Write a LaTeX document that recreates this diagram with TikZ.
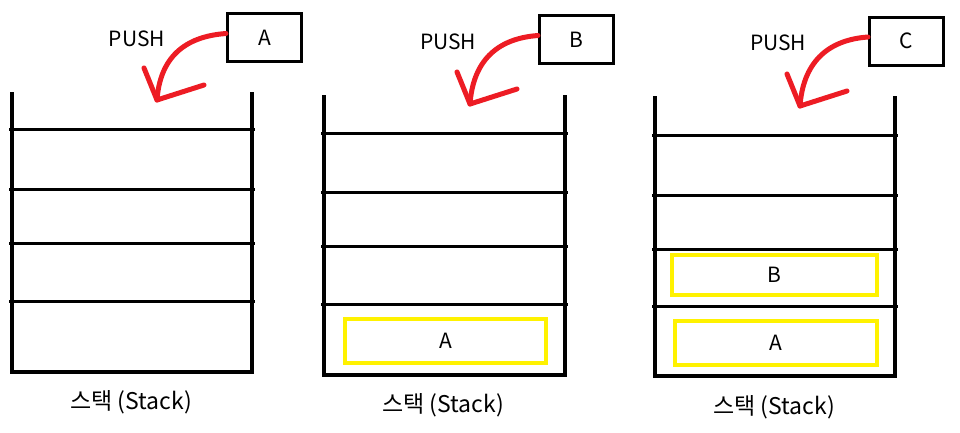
\documentclass[tikz,border=0pt]{standalone}
\usepackage{fontspec}
\setmainfont{Noto Sans CJK KR}
\usetikzlibrary{positioning, calc}

\definecolor{paintred}{RGB}{237,28,36}
\definecolor{paintyellow}{RGB}{255,242,0}

\tikzset{
    frame/.style={line width=3.5pt, line join=miter},
    shelf/.style={line width=3pt},
    item/.style={draw, line width=3pt, minimum width=74pt, minimum height=48pt, font=\fontsize{21}{25}\selectfont},
    slot/.style={draw=paintyellow, line width=4pt, font=\fontsize{21}{25}\selectfont},
    pushlabel/.style={font=\fontsize{21}{25}\selectfont},
    stacklabel/.style={font=\fontsize{23}{27}\selectfont},
    pusharrow/.style={draw=paintred, line width=5pt, line cap=round, line join=round},
}

\begin{document}
\begin{tikzpicture}[x=1pt, y=-1pt]
    \useasboundingbox (0,0) rectangle (960,432);

    % stack frames: x0/x1/top/bottom and shelves
    \foreach \xl/\xr/\yt/\yb/\sa/\sb/\sc/\sd in {
        12/252/92/372/129/189/243/301,
        324/565/95/375/133/192/246/304,
        655/895/96/376/135/195/249/306}{
        \draw[frame] (\xl,\yt) -- (\xl,\yb) -- (\xr,\yb) -- (\xr,\yt);
        \foreach \s in {\sa,\sb,\sc,\sd}
            \draw[shelf] (\xl-3,\s) -- (\xr+3,\s);
    }

    % incoming items
    \node[item] (a) at (264.5,37.5) {A};
    \node[item] (b) at (576.5,39.5) {B};
    \node[item] (c) at (906.5,41) {C};

    \node[pushlabel] (pa) at (137,39) {PUSH};
    \node[pushlabel] (pb) at (448,42) {PUSH};
    \node[pushlabel] (pc) at (778,43) {PUSH};

    % items already in the stacks
    \node[slot, minimum width=201pt, minimum height=44pt] (sa2) at (445.5,341) {A};
    \node[slot, minimum width=205pt, minimum height=40pt] (sb3) at (774.5,275) {B};
    \node[slot, minimum width=202pt, minimum height=44pt] (sa3) at (776,343) {A};

    \node[stacklabel] (st1) at (131,402) {스택 (Stack)};
    \node[stacklabel] (st2) at (443,405) {스택 (Stack)};
    \node[stacklabel] (st3) at (774,407) {스택 (Stack)};

    % push arrows
    \coordinate (ta) at (157,100);
    \coordinate (tb) at (470,104);
    \coordinate (tc) at (800,106);

    \draw[pusharrow] (a.west) ++(0,-4) .. controls +(-42,3) and +(3,-42) .. (ta);
    \draw[pusharrow] ($(ta)+(-13,-32)$) -- (ta) -- ($(ta)+(47,-15)$);
    \draw[pusharrow] (b.west) ++(0,-4) .. controls +(-42,3) and +(3,-42) .. (tb);
    \draw[pusharrow] ($(tb)+(-13,-32)$) -- (tb) -- ($(tb)+(47,-15)$);
    \draw[pusharrow] (c.west) ++(0,-4) .. controls +(-42,3) and +(3,-42) .. (tc);
    \draw[pusharrow] ($(tc)+(-13,-32)$) -- (tc) -- ($(tc)+(47,-15)$);
\end{tikzpicture}
\end{document}
